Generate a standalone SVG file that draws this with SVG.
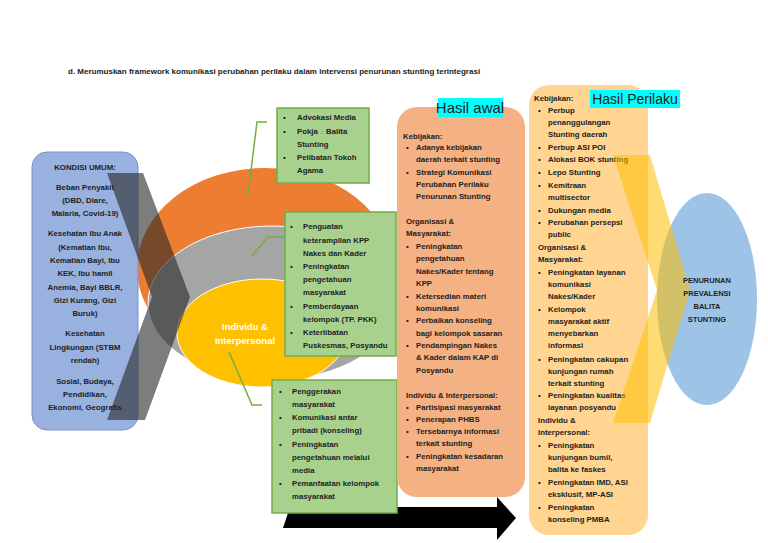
<svg xmlns="http://www.w3.org/2000/svg" width="768" height="543" viewBox="0 0 768 543">
<style>
text{font-family:"Liberation Sans",Arial,sans-serif;font-size:7.8px;font-weight:bold;fill:#222}
.c{text-anchor:middle}
.g{fill:#a9d18e;stroke:#70ad47;stroke-width:1.5}
.ln{fill:none;stroke:#70ad47;stroke-width:1.5}
</style>
<rect width="768" height="543" fill="#fff"/>
<text x="68" y="74" style="font-size:8px">d. Merumuskan framework komunikasi perubahan perilaku dalam intervensi penurunan stunting terintegrasi</text>
<g id="circles">
<ellipse cx="265" cy="268" rx="128" ry="100" fill="#ed7d31"/>
<ellipse cx="272" cy="303" rx="124" ry="77" fill="#a5a5a5" stroke="#fff" stroke-width="1"/>
<ellipse cx="262" cy="333" rx="85" ry="54" fill="#ffc000" stroke="#fff" stroke-width="1"/>
<text x="245" y="330" class="c" style="fill:#fff;font-size:9.5px">Individu &amp;</text>
<text x="245" y="344" class="c" style="fill:#fff;font-size:9.5px">Interpersonal</text>
</g>
<g id="kondisi">
<rect x="32" y="152" width="106" height="278" rx="15" fill="#8ea9db" fill-opacity="0.9" stroke="#7f8fc8"/>
<g class="c">
<text x="85" y="170" class="c">KONDISI UMUM:</text>
<text x="85" y="190" class="c">Beban Penyakit</text>
<text x="85" y="203" class="c">(DBD, Diare,</text>
<text x="85" y="216" class="c">Malaria, Covid-19)</text>
<text x="85" y="236" class="c">Kesehatan Ibu Anak</text>
<text x="85" y="250" class="c">(Kematian Ibu,</text>
<text x="85" y="263" class="c">Kematian Bayi, Ibu</text>
<text x="85" y="276" class="c">KEK, Ibu hamil</text>
<text x="85" y="290" class="c">Anemia, Bayi BBLR,</text>
<text x="85" y="303" class="c">Gizi Kurang, Gizi</text>
<text x="85" y="316" class="c">Buruk)</text>
<text x="85" y="336" class="c">Kesehatan</text>
<text x="85" y="350" class="c">Lingkungan (STBM</text>
<text x="85" y="363" class="c">rendah)</text>
<text x="85" y="384" class="c">Sosial, Budaya,</text>
<text x="85" y="397" class="c">Pendidikan,</text>
<text x="85" y="410" class="c">Ekonomi, Geografis</text>
</g>
<polygon points="107,173 143,173 190,297 145,420 107,420 152,297" fill="#262626" fill-opacity="0.6"/>
</g>
<g id="connectors">
<polyline class="ln" points="267,122 257,122 248,195"/>
<polyline class="ln" points="285,237 268,237 252,256"/>
<polyline class="ln" points="262,405 252,405 229,352"/>
<polygon points="290,507 497,507 497,497 516,518 497,540 497,528 283,528" fill="#000"/>
</g>
<g id="box1">
<rect class="g" x="277" y="108" width="92" height="75"/>
<text x="283" y="120">•</text><text x="297" y="120">Advokasi Media</text>
<text x="283" y="134">•</text><text x="297" y="134">Pokja <tspan style="fill:#4472c4">↓</tspan> Balita</text>
<text x="297" y="147">Stunting</text>
<text x="283" y="160">•</text><text x="297" y="160">Pelibatan Tokoh</text>
<text x="297" y="173">Agama</text>
</g>
<g id="box2">
<rect class="g" x="285" y="212" width="111" height="144"/>
<text x="290" y="229">•</text><text x="303" y="229">Penguatan</text>
<text x="303" y="243">keterampilan KPP</text>
<text x="303" y="256">Nakes dan Kader</text>
<text x="290" y="269">•</text><text x="303" y="269">Peningkatan</text>
<text x="303" y="282">pengetahuan</text>
<text x="303" y="295">masyarakat</text>
<text x="290" y="309">•</text><text x="303" y="309">Pemberdayaan</text>
<text x="303" y="322">kelompok (TP. PKK)</text>
<text x="290" y="335">•</text><text x="303" y="335">Keterlibatan</text>
<text x="303" y="348">Puskesmas, Posyandu</text>
</g>
<g id="box3">
<rect class="g" x="272" y="380" width="125" height="133"/>
<text x="279" y="394">•</text><text x="292" y="394">Penggerakan</text>
<text x="292" y="407">masyarakat</text>
<text x="279" y="420">•</text><text x="292" y="420">Komunikasi antar</text>
<text x="292" y="433">pribadi (konseling)</text>
<text x="279" y="447">•</text><text x="292" y="447">Peningkatan</text>
<text x="292" y="460">pengetahuan melalui</text>
<text x="292" y="473">media</text>
<text x="279" y="486">•</text><text x="292" y="486">Pemanfaatan kelompok</text>
<text x="292" y="499">masyarakat</text>
</g>
<g id="hasil-awal">
<rect x="397" y="107" width="128" height="390" rx="20" fill="#f4b183"/>
<rect x="438" y="98" width="65" height="19" fill="#00ffff"/>
<text x="470" y="113" class="c" style="font-weight:normal;font-size:15px">Hasil awal</text>
<text x="403" y="139">Kebijakan:</text>
<text x="406" y="150">•</text><text x="416" y="150">Adanya kebijakan</text>
<text x="416" y="162">daerah terkait stunting</text>
<text x="406" y="175">•</text><text x="416" y="175">Strategi Komunikasi</text>
<text x="416" y="187">Perubahan Perilaku</text>
<text x="416" y="199">Penurunan Stunting</text>
<text x="406" y="224">Organisasi &amp;</text>
<text x="406" y="236">Masyarakat:</text>
<text x="406" y="249">•</text><text x="416" y="249">Peningkatan</text>
<text x="416" y="261">pengetahuan</text>
<text x="416" y="274">Nakes/Kader tentang</text>
<text x="416" y="286">KPP</text>
<text x="406" y="299">•</text><text x="416" y="299">Ketersedian materi</text>
<text x="416" y="311">komunikasi</text>
<text x="406" y="323">•</text><text x="416" y="323">Perbaikan konseling</text>
<text x="416" y="336">bagi kelompok sasaran</text>
<text x="406" y="348">•</text><text x="416" y="348">Pendampingan Nakes</text>
<text x="416" y="360">&amp; Kader dalam KAP di</text>
<text x="416" y="373">Posyandu</text>
<text x="406" y="398">Individu &amp; Interpersonal:</text>
<text x="406" y="410">•</text><text x="416" y="410">Partisipasi masyarakat</text>
<text x="406" y="422">•</text><text x="416" y="422">Penerapan PHBS</text>
<text x="406" y="434">•</text><text x="416" y="434">Tersebarnya informasi</text>
<text x="416" y="446">terkait stunting</text>
<text x="406" y="459">•</text><text x="416" y="459">Peningkatan kesadaran</text>
<text x="416" y="471">masyarakat</text>
</g>
<g id="hasil-perilaku">
<rect x="529" y="85" width="119" height="450" rx="20" fill="#ffd591"/>
<rect x="590" y="90" width="90" height="18" fill="#00ffff"/>
<text x="635" y="104" class="c" style="font-weight:normal;font-size:14px">Hasil Perilaku</text>
<text x="534" y="101">Kebijakan:</text>
<text x="538" y="113">•</text><text x="548" y="113">Perbup</text>
<text x="548" y="125">penanggulangan</text>
<text x="548" y="137">Stunting daerah</text>
<text x="538" y="150">•</text><text x="548" y="150">Perbup ASI POI</text>
<text x="538" y="162">•</text><text x="548" y="162">Alokasi BOK stunting</text>
<text x="538" y="175">•</text><text x="548" y="175">Lepo Stunting</text>
<text x="538" y="188">•</text><text x="548" y="188">Kemitraan</text>
<text x="548" y="200">multisector</text>
<text x="538" y="213">•</text><text x="548" y="213">Dukungan media</text>
<text x="538" y="225">•</text><text x="548" y="225">Perubahan persepsi</text>
<text x="548" y="237">public</text>
<text x="538" y="250">Organisasi &amp;</text>
<text x="538" y="262">Masyarakat:</text>
<text x="538" y="275">•</text><text x="548" y="275">Peningkatan layanan</text>
<text x="548" y="287">komunikasi</text>
<text x="548" y="299">Nakes/Kader</text>
<text x="538" y="312">•</text><text x="548" y="312">Kelompok</text>
<text x="548" y="324">masyarakat aktif</text>
<text x="548" y="336">menyebarkan</text>
<text x="548" y="348">informasi</text>
<text x="538" y="362">•</text><text x="548" y="362">Peningkatan cakupan</text>
<text x="548" y="374">kunjungan rumah</text>
<text x="548" y="386">terkait stunting</text>
<text x="538" y="398">•</text><text x="548" y="398">Peningkatan kualitas</text>
<text x="548" y="410">layanan posyandu</text>
<text x="538" y="423">Individu &amp;</text>
<text x="538" y="435">Interpersonal:</text>
<text x="538" y="448">•</text><text x="548" y="448">Peningkatan</text>
<text x="548" y="460">kunjungan bumil,</text>
<text x="548" y="472">balita ke faskes</text>
<text x="538" y="485">•</text><text x="548" y="485">Peningkatan IMD, ASI</text>
<text x="548" y="497">eksklusif, MP-ASI</text>
<text x="538" y="510">•</text><text x="548" y="510">Peningkatan</text>
<text x="548" y="522">konseling PMBA</text>
</g>
<g id="hasil-akhir">
<ellipse cx="707" cy="299" rx="50" ry="106" fill="#9dc3e6"/>
<polygon points="613,155 650,155 690,290 650,423 613,423 657,290" fill="#ffc000" fill-opacity="0.55"/>
<text x="707" y="283" class="c" style="font-size:7.5px">PENURUNAN</text>
<text x="707" y="296" class="c" style="font-size:7.5px">PREVALENSI</text>
<text x="707" y="309" class="c" style="font-size:7.5px">BALITA</text>
<text x="707" y="322" class="c" style="font-size:7.5px">STUNTING</text>
</g>
</svg>
